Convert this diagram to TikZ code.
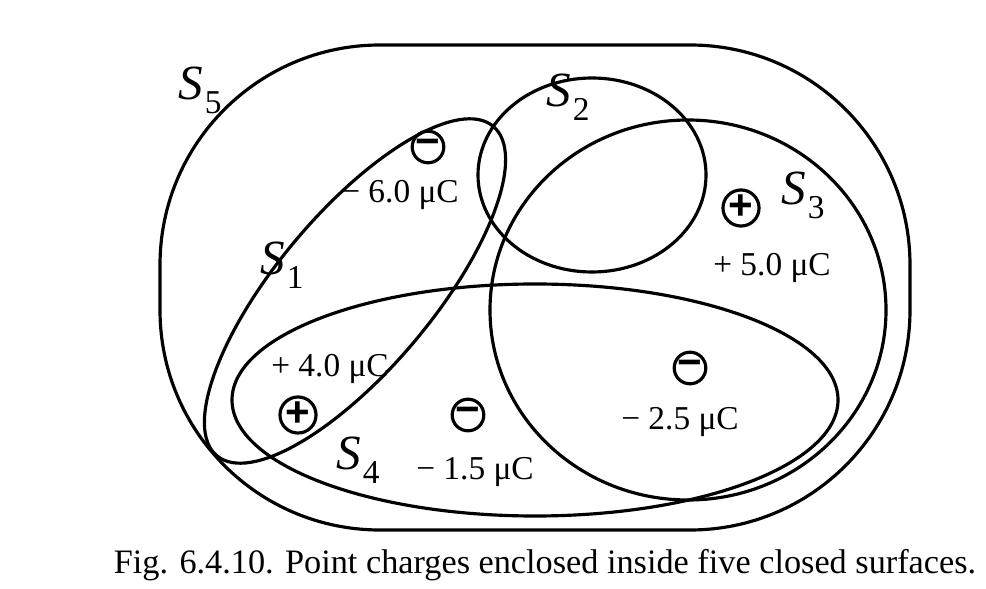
\documentclass[tikz,border=0pt]{standalone}
\usepackage{fontspec}
\setmainfont{Liberation Serif}
\newfontfamily\symf{Liberation Sans}
\begin{document}
\begin{tikzpicture}[x=0.02cm,y=0.02cm,
  surf/.style={line width=1.8pt},
  chg/.style={circle,draw,line width=1.8pt,minimum size=18pt,inner sep=0pt,font=\symf\fontsize{24}{24}\selectfont\bfseries},
  lab/.style={font=\fontsize{19}{19}\selectfont,inner sep=1pt},
  slab/.style={font=\fontsize{28}{28}\selectfont\itshape,inner sep=0pt}]
\useasboundingbox (0,0) rectangle (986,588);
\draw[surf,rounded corners=4.4cm] (160,543) rectangle (910,58);
\draw[surf,rotate around={50:(355,297)}] (355,297) ellipse (215 and 78);
\draw[surf] (592,413) ellipse (114 and 97);
\draw[surf] (688,278) ellipse (198 and 190);
\draw[surf] (535,188) ellipse (303 and 116);
\node[chg] (c1) at (428,441) {−};
\node[lab] (l1) at (400,393) {− 6.0 μC};
\node[chg] (c2) at (741,380) {\raisebox{1pt}{+}};
\node[lab] (l2) at (772,320) {+ 5.0 μC};
\node[chg] (c3) at (690,220) {−};
\node[lab] (l3) at (680,166) {− 2.5 μC};
\node[chg] (c4) at (298,173) {\raisebox{1pt}{+}};
\node[lab] (l4) at (330,219) {+ 4.0 μC};
\node[chg] (c5) at (468,173) {−};
\node[lab] (l5) at (475,116) {− 1.5 μC};
\node[slab] (s1) at (282,323) {S\kern1pt\raisebox{-8pt}{\upshape\fontsize{19}{19}\selectfont 1}};
\node[slab] (s2) at (568,491) {S\kern1pt\raisebox{-8pt}{\upshape\fontsize{19}{19}\selectfont 2}};
\node[slab] (s3) at (803,393) {S\kern1pt\raisebox{-8pt}{\upshape\fontsize{19}{19}\selectfont 3}};
\node[slab] (s4) at (358,128) {S\kern1pt\raisebox{-8pt}{\upshape\fontsize{19}{19}\selectfont 4}};
\node[slab] (s5) at (200,498) {S\kern1pt\raisebox{-8pt}{\upshape\fontsize{19}{19}\selectfont 5}};
\node[lab,font=\fontsize{19.5}{19.5}\selectfont] (cap) at (545,23) {Fig. 6.4.10. Point charges enclosed inside five closed surfaces.};
\end{tikzpicture}
\end{document}
